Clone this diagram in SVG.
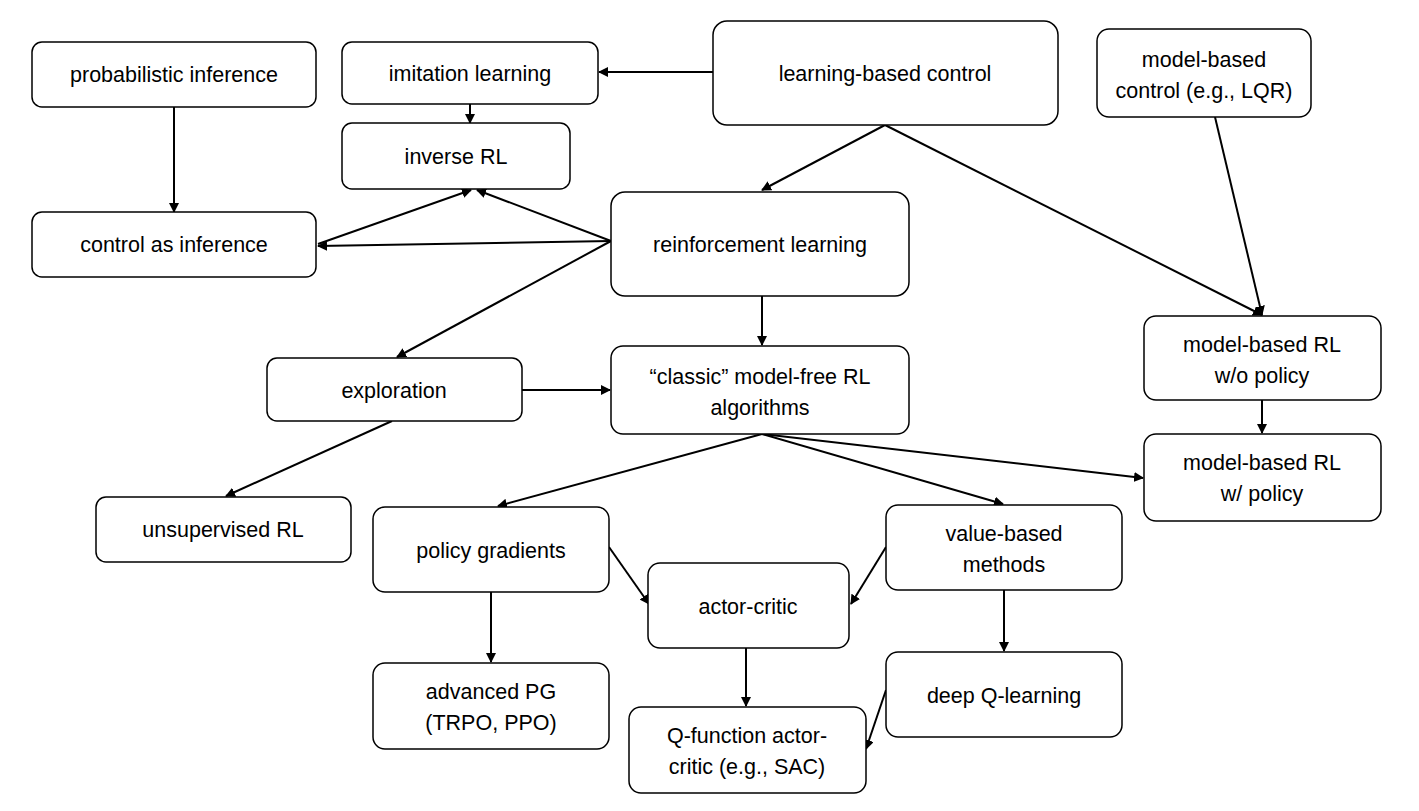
<svg xmlns="http://www.w3.org/2000/svg" width="1419" height="811" viewBox="0 0 1419 811">
<defs>
<style>
rect{fill:#fff;stroke:#000;stroke-width:1.5}
text{font-family:"Liberation Sans",Arial,sans-serif;font-size:21.5px;text-anchor:middle;fill:#000}
line{stroke:#000;stroke-width:2;marker-end:url(#a)}
</style>
<marker id="a" viewBox="0 0 10 10" refX="9" refY="5" markerWidth="5" markerHeight="5" orient="auto"><path d="M0,0L10,5L0,10z" fill="#000"/></marker>
</defs>
<rect width="1419" height="811" style="stroke:none"/>
<g id="connectors">
<line x1="713" y1="72" x2="599" y2="72"/>
<line x1="470" y1="104" x2="470" y2="123"/>
<line x1="174" y1="107" x2="174" y2="212"/>
<line x1="885" y1="125" x2="762" y2="190"/>
<line x1="885" y1="125" x2="1262" y2="315"/>
<line x1="1215" y1="117" x2="1262" y2="315"/>
<line x1="611" y1="241" x2="318" y2="246"/>
<line x1="611" y1="241" x2="477" y2="190"/>
<line x1="318" y1="244" x2="471" y2="190"/>
<line x1="611" y1="241" x2="397" y2="357"/>
<line x1="762" y1="296" x2="762" y2="345"/>
<line x1="522" y1="390" x2="610" y2="390"/>
<line x1="392" y1="421" x2="226" y2="496"/>
<line x1="762" y1="434" x2="498" y2="506"/>
<line x1="762" y1="434" x2="1003" y2="504"/>
<line x1="762" y1="434" x2="1143" y2="478"/>
<line x1="1262" y1="400" x2="1262" y2="433"/>
<line x1="609" y1="547" x2="649" y2="604"/>
<line x1="886" y1="547" x2="851" y2="604"/>
<line x1="491" y1="592" x2="491" y2="662"/>
<line x1="1004" y1="590" x2="1004" y2="651"/>
<line x1="746" y1="648" x2="746" y2="706"/>
<line x1="886" y1="690" x2="866" y2="749"/>
</g>
<g id="n1"><rect x="32" y="42" width="284" height="65" rx="10"/><text x="174" y="82">probabilistic inference</text></g>
<g id="n2"><rect x="342" y="42" width="256" height="62" rx="10"/><text x="470" y="81">imitation learning</text></g>
<g id="n3"><rect x="713" y="21" width="345" height="104" rx="14"/><text x="885" y="81">learning-based control</text></g>
<g id="n4"><rect x="1097" y="29" width="214" height="88" rx="12"/><text x="1204" y="67">model-based</text><text x="1204" y="98">control (e.g., LQR)</text></g>
<g id="n5"><rect x="342" y="123" width="228" height="66" rx="10"/><text x="456" y="164">inverse RL</text></g>
<g id="n6"><rect x="32" y="212" width="284" height="65" rx="10"/><text x="174" y="252">control as inference</text></g>
<g id="n7"><rect x="611" y="192" width="298" height="104" rx="14"/><text x="760" y="252">reinforcement learning</text></g>
<g id="n8"><rect x="267" y="358" width="255" height="63" rx="10"/><text x="394" y="398">exploration</text></g>
<g id="n9"><rect x="611" y="346" width="298" height="88" rx="12"/><text x="760" y="384">“classic” model-free RL</text><text x="760" y="415">algorithms</text></g>
<g id="n10"><rect x="1144" y="316" width="237" height="84" rx="12"/><text x="1262" y="352">model-based RL</text><text x="1262" y="383">w/o policy</text></g>
<g id="n11"><rect x="1144" y="434" width="237" height="87" rx="12"/><text x="1262" y="470">model-based RL</text><text x="1262" y="501">w/ policy</text></g>
<g id="n12"><rect x="96" y="497" width="255" height="65" rx="10"/><text x="223" y="537">unsupervised RL</text></g>
<g id="n13"><rect x="373" y="507" width="236" height="85" rx="12"/><text x="491" y="558">policy gradients</text></g>
<g id="n14"><rect x="886" y="505" width="236" height="85" rx="12"/><text x="1004" y="541">value-based</text><text x="1004" y="572">methods</text></g>
<g id="n15"><rect x="648" y="563" width="201" height="85" rx="12"/><text x="748" y="614">actor-critic</text></g>
<g id="n16"><rect x="373" y="663" width="236" height="86" rx="12"/><text x="491" y="699">advanced PG</text><text x="491" y="730">(TRPO, PPO)</text></g>
<g id="n17"><rect x="886" y="652" width="236" height="85" rx="12"/><text x="1004" y="703">deep Q-learning</text></g>
<g id="n18"><rect x="629" y="707" width="237" height="86" rx="12"/><text x="747" y="743">Q-function actor-</text><text x="747" y="774">critic (e.g., SAC)</text></g>
</svg>
